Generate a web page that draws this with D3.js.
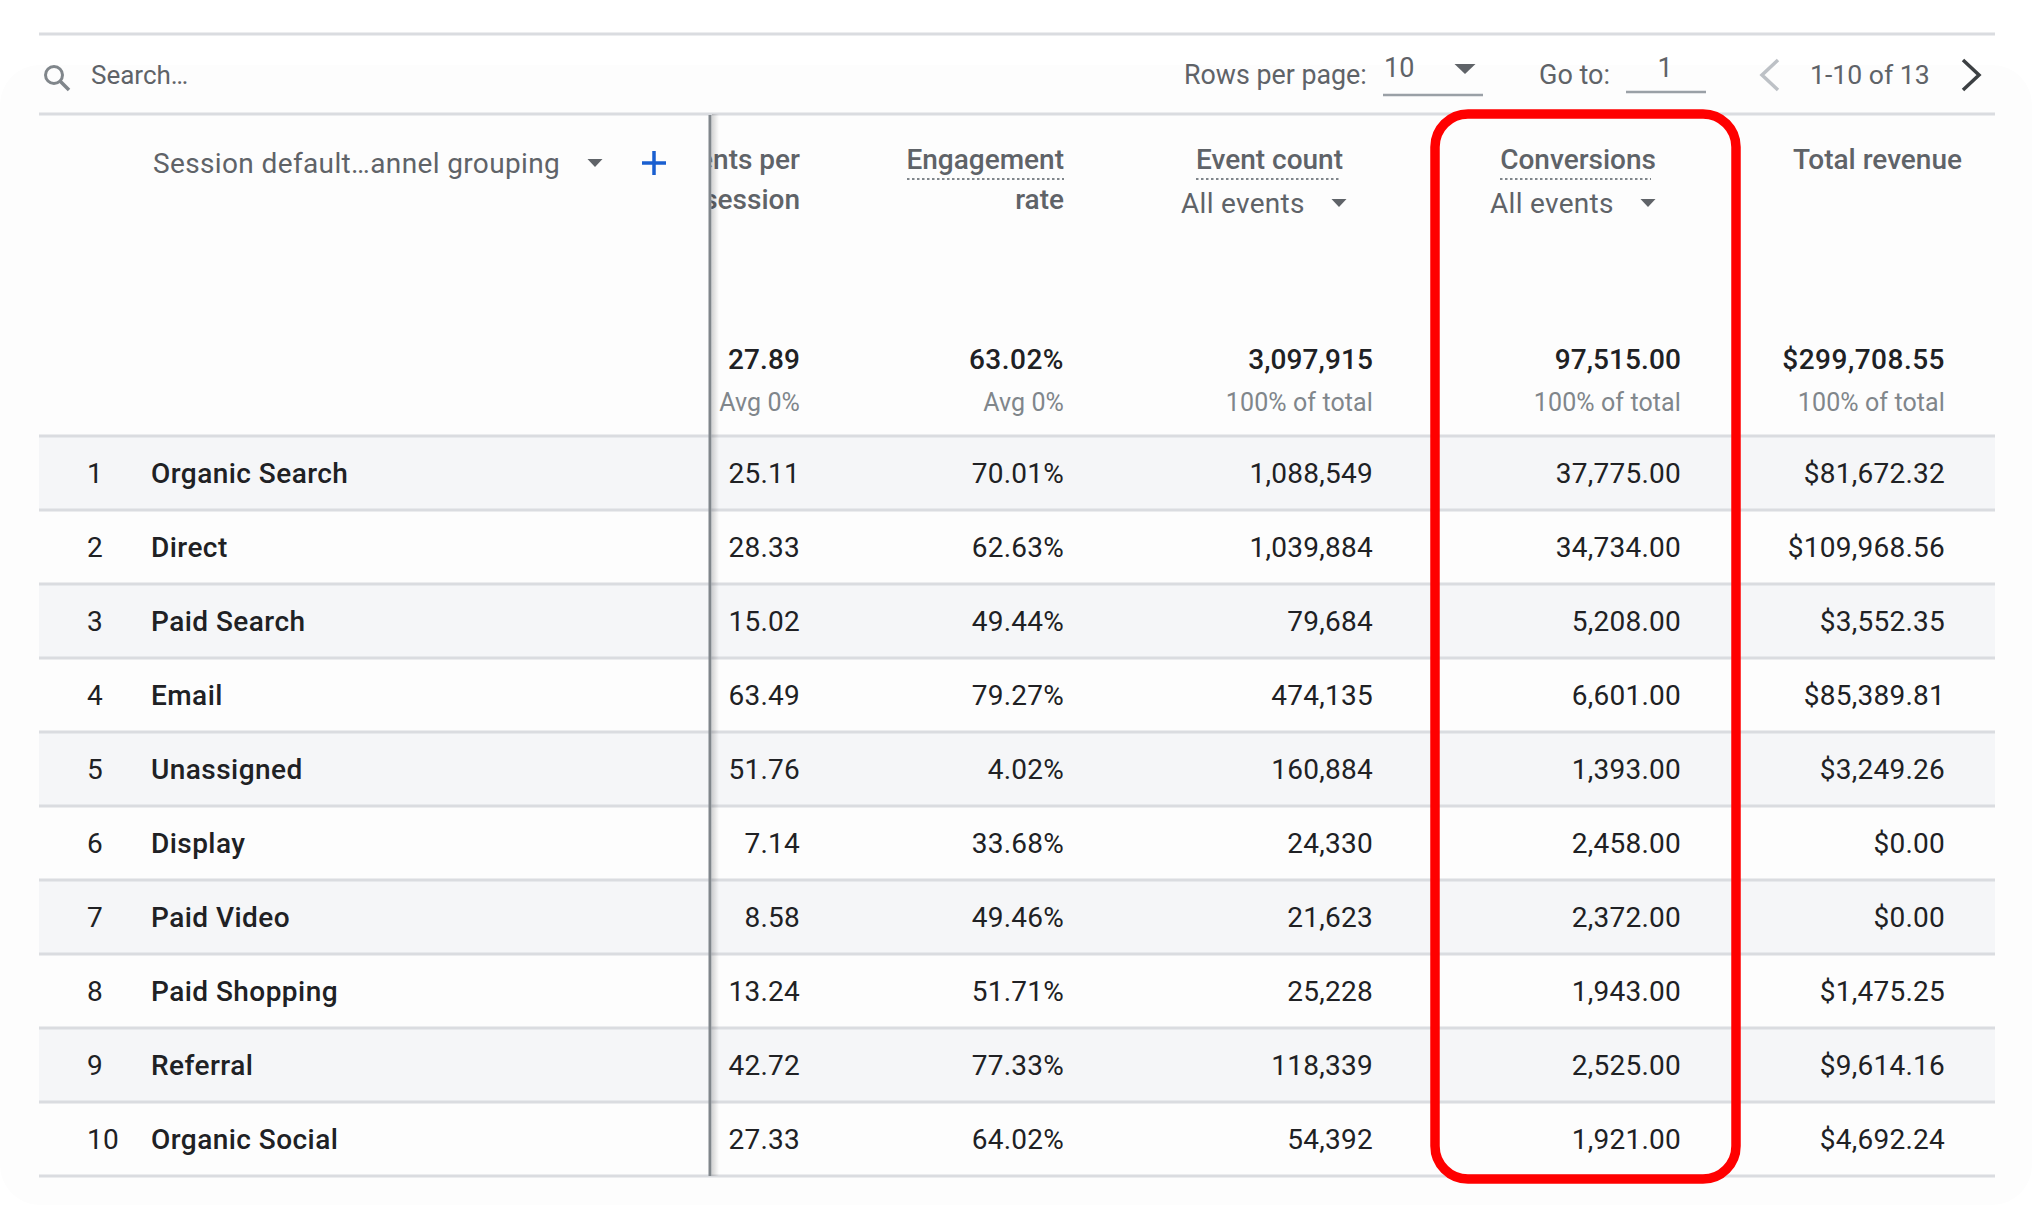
<!DOCTYPE html>
<html lang="en">
<head>
<meta charset="UTF-8">
<title>Session default channel grouping table</title>
<script src="https://d3js.org/d3.v7.min.js"></script>
<style>
  html, body { margin: 0; padding: 0; background: #fff; }
  svg { display: block; font-family: Roboto, sans-serif; }
  .cell { font-size: 28px; fill: #202124; letter-spacing: 0.25px; }
  .name { font-size: 28px; font-weight: 500; fill: #202124; letter-spacing: 0.45px; }
  .head { font-size: 28px; font-weight: 500; fill: #5f6368; }
  .sub { font-size: 28px; fill: #5f6368; letter-spacing: 0.3px; }
  .total { font-size: 28px; font-weight: 500; fill: #202124; letter-spacing: 0.1px; }
  .share { font-size: 25px; fill: #80868b; letter-spacing: 0.1px; }
  .ctrl { font-size: 27px; fill: #5f6368; }
</style>
</head>
<body>
<svg id="chart" width="2032" height="1205"></svg>
<script>
const ranks = [1, 2, 3, 4, 5, 6, 7, 8, 9, 10];
const channels = ["Organic Search", "Direct", "Paid Search", "Email", "Unassigned", "Display", "Paid Video", "Paid Shopping", "Referral", "Organic Social"];
const eventsPerSession = [25.11, 28.33, 15.02, 63.49, 51.76, 7.14, 8.58, 13.24, 42.72, 27.33];
const engagementRate = [70.01, 62.63, 49.44, 79.27, 4.02, 33.68, 49.46, 51.71, 77.33, 64.02];
const eventCount = [1088549, 1039884, 79684, 474135, 160884, 24330, 21623, 25228, 118339, 54392];
const conversions = [37775, 34734, 5208, 6601, 1393, 2458, 2372, 1943, 2525, 1921];
const totalRevenue = [81672.32, 109968.56, 3552.35, 85389.81, 3249.26, 0, 0, 1475.25, 9614.16, 4692.24];

const columnKeys = ["perSession", "engagement", "events", "conversions", "revenue"];
const totals = ["27.89", "63.02%", "3,097,915", "97,515.00", "$299,708.55"];
const totalNotes = ["Avg 0%", "Avg 0%", "100% of total", "100% of total", "100% of total"];

const fmt2 = d3.format(",.2f");
const fmtInt = d3.format(",");
const fmtPct = v => d3.format(".2f")(v) + "%";
const fmtUsd = v => "$" + fmt2(v);

const columns = [
  { key: "perSession", values: eventsPerSession, format: d3.format(".2f") },
  { key: "engagement", values: engagementRate, format: fmtPct },
  { key: "events", values: eventCount, format: fmtInt },
  { key: "conversions", values: conversions, format: fmt2 },
  { key: "revenue", values: totalRevenue, format: fmtUsd }
];

const left = 39, right = 1995, divider = 710;
const svg = d3.select("#chart");

const y = d3.scaleBand().domain(ranks).range([436, 1176]);
const colX = d3.scaleOrdinal().domain(columnKeys).range([800, 1064, 1373, 1681, 1945]);

// faint page tint under the screenshot
svg.append("rect").attr("x", 0).attr("y", 65).attr("width", 2032).attr("height", 1140)
  .attr("rx", 40).attr("fill", "#fdfdfd");

const defs = svg.append("defs");
defs.append("clipPath").attr("id", "scroll-clip").append("rect")
  .attr("x", divider).attr("y", 114).attr("width", right - divider).attr("height", 320);
const shade = defs.append("linearGradient").attr("id", "shade");
shade.append("stop").attr("offset", 0).attr("stop-color", "#000").attr("stop-opacity", 0.16);
shade.append("stop").attr("offset", 1).attr("stop-color", "#000").attr("stop-opacity", 0);

// row stripes
svg.append("g").selectAll("rect").data(ranks.filter(r => r % 2 == 1)).join("rect")
  .attr("x", left).attr("width", right - left)
  .attr("y", d => y(d)).attr("height", y.bandwidth())
  .attr("fill", "#f5f6f8");

// rules
const ruleYs = [34, 114].concat(ranks.map(r => y(r))).concat([y(10) + y.bandwidth()]);
svg.append("g").selectAll("line").data(ruleYs).join("line")
  .attr("x1", left).attr("x2", right).attr("y1", d => d).attr("y2", d => d)
  .attr("stroke", "#dadce0").attr("stroke-width", 3);

// toolbar
svg.append("circle").attr("cx", 54).attr("cy", 75).attr("r", 8.5)
  .attr("fill", "none").attr("stroke", "#80868b").attr("stroke-width", 3);
svg.append("line").attr("x1", 60).attr("y1", 81).attr("x2", 69).attr("y2", 90)
  .attr("stroke", "#80868b").attr("stroke-width", 3.5);
const ctrl = (x, yy, t, cls) => svg.append("text").attr("x", x).attr("y", yy).attr("class", cls || "ctrl").text(t);
const tri = (x, yy, w, h, c) => svg.append("path")
  .attr("d", d3.line()([[x - w / 2, yy], [x + w / 2, yy], [x, yy + h]]) + "Z").attr("fill", c);

ctrl(91, 84, "Search…").style("font-size", "26px");
ctrl(1184, 84, "Rows per page:").style("font-size", "26.8px");
ctrl(1384, 77, "10");
tri(1465, 64, 21, 10, "#5f6368");
svg.append("line").attr("x1", 1383).attr("x2", 1483).attr("y1", 95).attr("y2", 95).attr("stroke", "#9aa0a6").attr("stroke-width", 2.5);
ctrl(1539, 84, "Go to:");
ctrl(1665, 77, "1").attr("text-anchor", "middle");
svg.append("line").attr("x1", 1626).attr("x2", 1706).attr("y1", 92).attr("y2", 92).attr("stroke", "#9aa0a6").attr("stroke-width", 2.5);
ctrl(1810, 84, "1-10 of 13").style("font-size", "26.6px");
svg.append("path").attr("d", d3.line()([[1778, 60], [1762, 75], [1778, 90]]))
  .attr("fill", "none").attr("stroke", "#bdc1c6").attr("stroke-width", 3.5);
svg.append("path").attr("d", d3.line()([[1963, 60], [1979, 75], [1963, 90]]))
  .attr("fill", "none").attr("stroke", "#3c4043").attr("stroke-width", 3.5);

// header
svg.append("text").attr("x", 153).attr("y", 173).attr("class", "sub")
  .style("letter-spacing", "0.37px").text("Session default…annel grouping");
tri(595, 159, 15, 8, "#5f6368");
svg.append("path").attr("d", "M654,151V175M642,163H666").attr("stroke", "#1a5fd0").attr("stroke-width", 3.5).attr("fill", "none");

const header = svg.append("g").attr("clip-path", "url(#scroll-clip)");
const headText = (key, yy, t, shift) => header.append("text")
  .attr("x", colX(key) + (shift || 0)).attr("y", yy).attr("text-anchor", "end").attr("class", "head").text(t);
headText("perSession", 169, "Events per");
headText("perSession", 209, "session");
headText("engagement", 169, "Engagement");
headText("engagement", 209, "rate");
headText("events", 169, "Event count", -30);
headText("conversions", 169, "Conversions", -25);
headText("revenue", 169, "Total revenue", 17);

// dotted underlines on the metric names
[[907, 1064], [1196, 1340], [1500, 1651]].forEach(d => {
  svg.append("line").attr("x1", d[0]).attr("x2", d[1]).attr("y1", 179).attr("y2", 179)
    .attr("stroke", "#80868b").attr("stroke-width", 2).attr("stroke-dasharray", "2.5 2.5");
});

[[1181, 1339], [1490, 1648]].forEach(d => {
  svg.append("text").attr("x", d[0]).attr("y", 213).attr("class", "sub").text("All events");
  tri(d[1], 199, 15, 8, "#5f6368");
});

// totals row
svg.append("g").selectAll("text").data(columnKeys).join("text")
  .attr("x", d => colX(d)).attr("y", 369).attr("text-anchor", "end").attr("class", "total")
  .style("letter-spacing", d => (d == "revenue" || d == "engagement") ? "0.5px" : null)
  .text((d, i) => totals[i]);
svg.append("g").selectAll("text").data(columnKeys).join("text")
  .attr("x", d => colX(d)).attr("y", 411).attr("text-anchor", "end").attr("class", "share")
  .text((d, i) => totalNotes[i]);

// body rows
const rowMid = r => y(r) + y.bandwidth() / 2 + 10;
svg.append("g").selectAll("text").data(ranks).join("text")
  .attr("x", 87).attr("y", rowMid).attr("class", "cell").text(d => d);
svg.append("g").selectAll("text").data(ranks).join("text")
  .attr("x", 151).attr("y", rowMid).attr("class", "name").text((d, i) => channels[i]);
columns.forEach(col => {
  svg.append("g").selectAll("text").data(col.values).join("text")
    .attr("x", colX(col.key)).attr("y", (d, i) => rowMid(ranks[i]))
    .attr("text-anchor", "end").attr("class", "cell").text(col.format);
});

// frozen column edge
svg.append("rect").attr("x", 712).attr("y", 114).attr("width", 7).attr("height", 1062).attr("fill", "url(#shade)");
svg.append("line").attr("x1", divider).attr("x2", divider).attr("y1", 115).attr("y2", 1176)
  .attr("stroke", "#80868b").attr("stroke-width", 3);

// highlight box
svg.append("rect").attr("x", 1435).attr("y", 114).attr("width", 301).attr("height", 1065)
  .attr("rx", 33).attr("fill", "none").attr("stroke", "#ff0000").attr("stroke-width", 9.5);
</script>
</body>
</html>
